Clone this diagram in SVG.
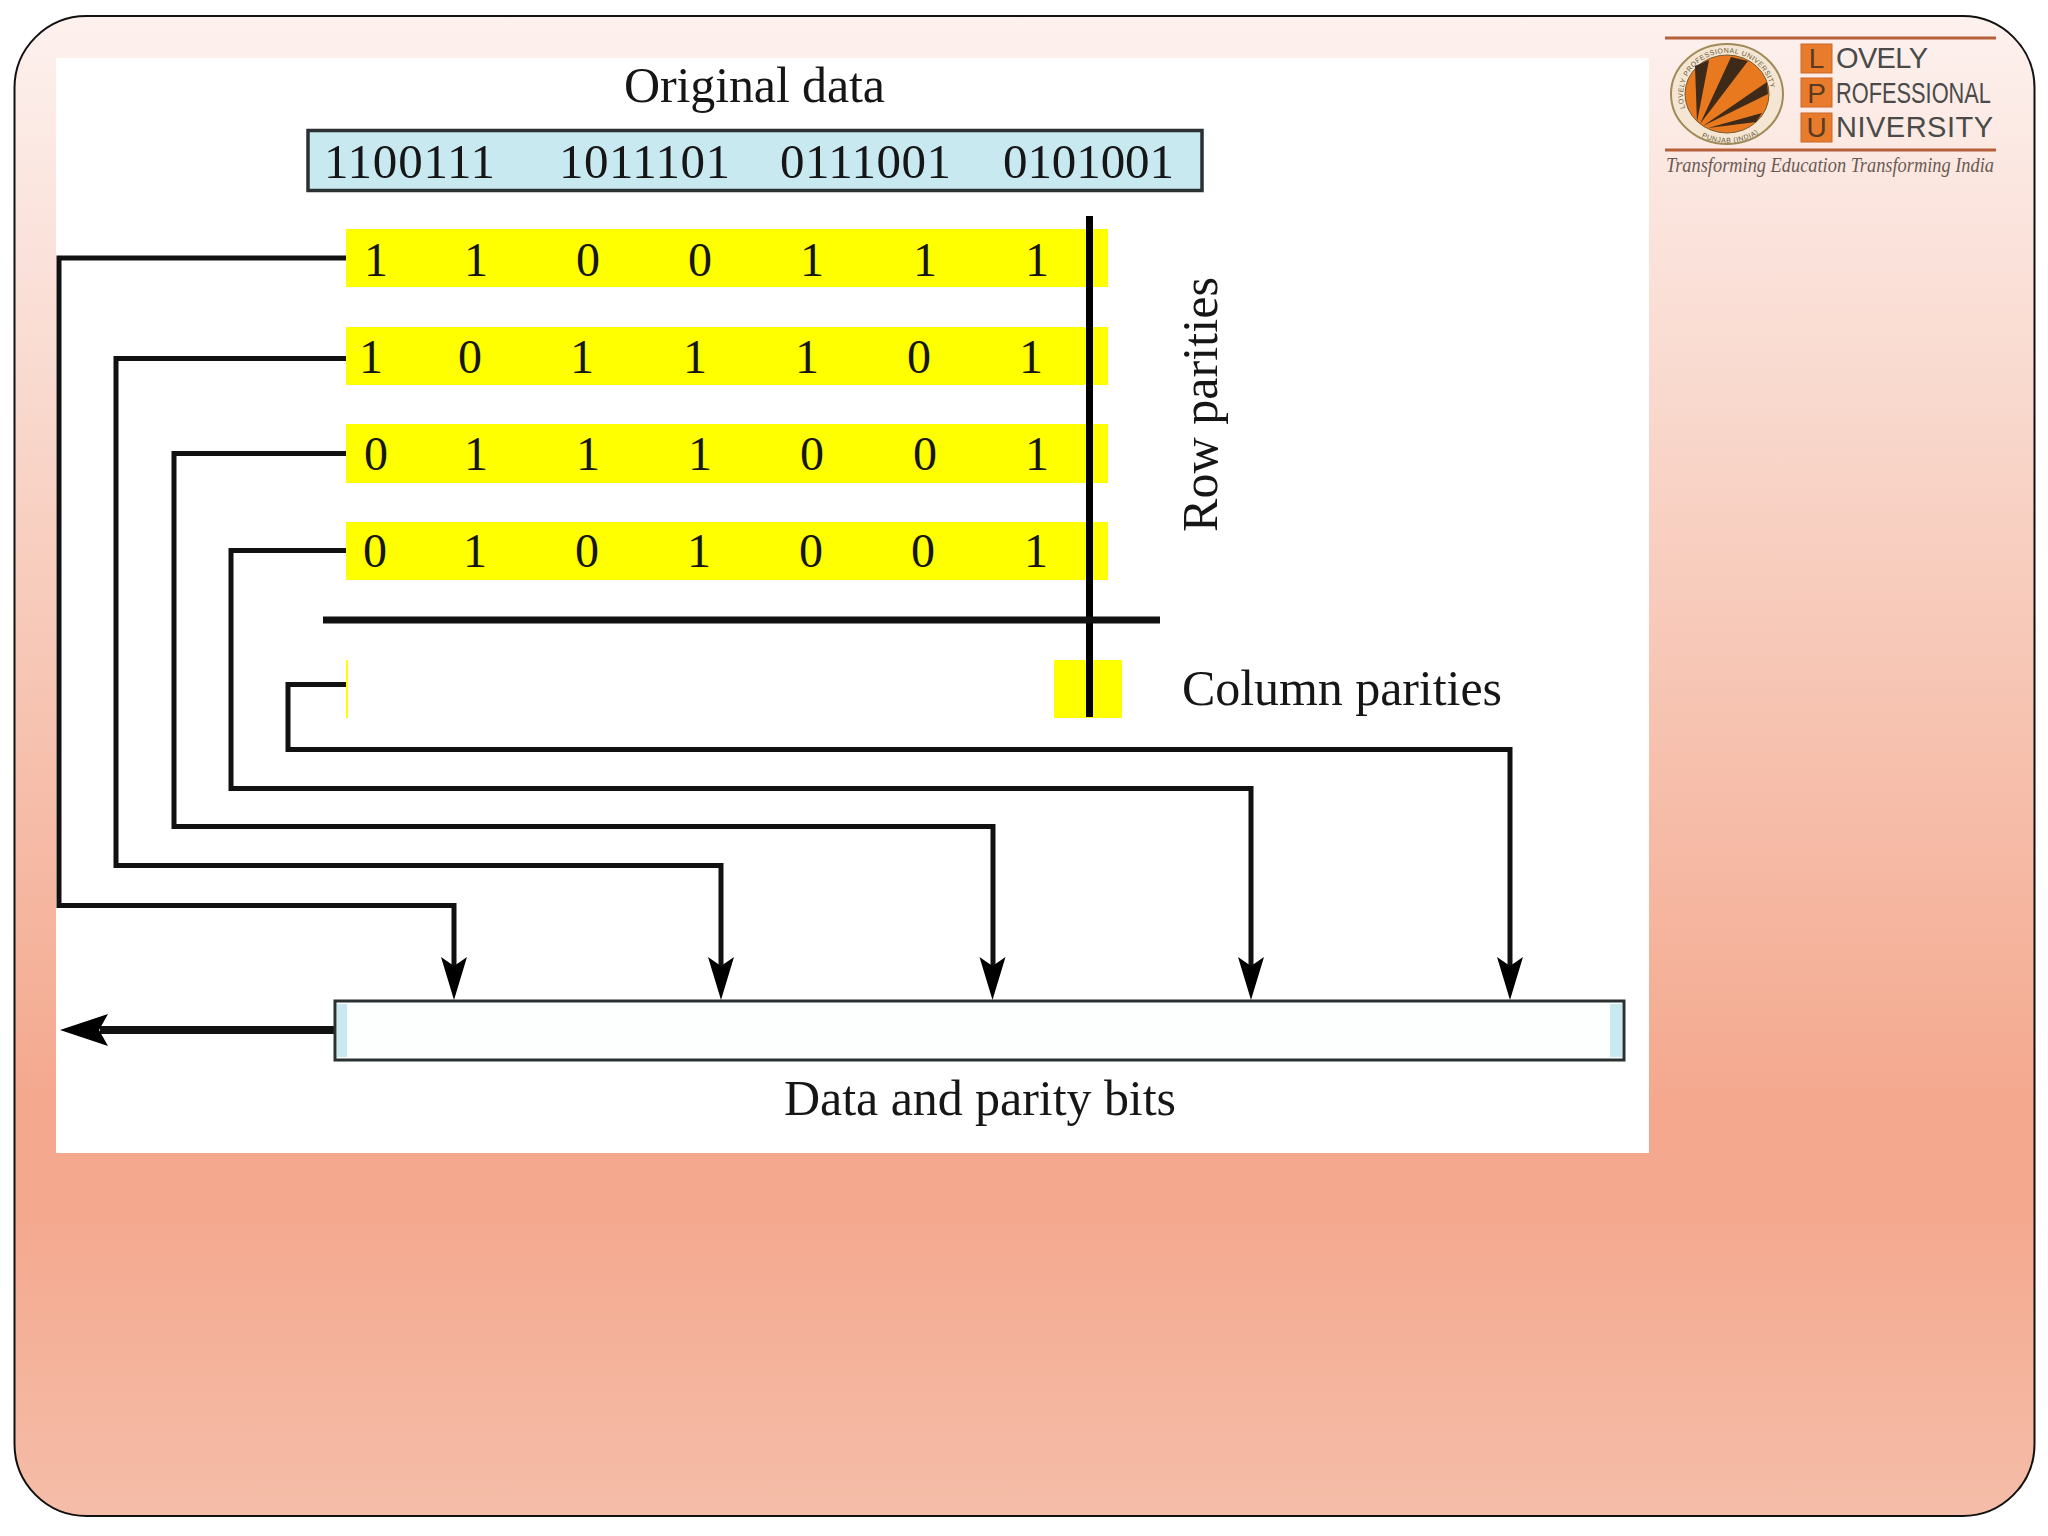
<svg xmlns="http://www.w3.org/2000/svg" xmlns:xlink="http://www.w3.org/1999/xlink" width="2048" height="1536" viewBox="0 0 2048 1536">
<style>
.s{font-family:"Liberation Serif","Times New Roman",serif;fill:#161616}
.d{font-size:48px;text-anchor:middle}
.g{font-size:49px}
.l{font-size:50px}
.c{fill:none;stroke:#111;stroke-width:5}
.y{fill:#ffff00}
.lg{font-family:"Liberation Sans",Arial,sans-serif;fill:#4a4a48;font-size:29px}
.lb{font-family:"Liberation Sans",Arial,sans-serif;fill:#5a3a20;font-size:28px;text-anchor:middle}
.sq{fill:#e87c2c;stroke:#c9682a;stroke-width:1}
.rule{stroke:#b5603a;stroke-width:3}
.ring{font-family:"Liberation Sans",Arial,sans-serif;font-size:7px;fill:#6a5a40;letter-spacing:.5px}
</style>
<defs>
<linearGradient id="bg" x1="0" y1="0" x2="0" y2="1">
<stop offset="0" stop-color="#fdf1ee"/>
<stop offset=".25" stop-color="#f9d9ce"/>
<stop offset=".72" stop-color="#f4a98f"/>
<stop offset=".8" stop-color="#f4a98f"/>
<stop offset="1" stop-color="#f5bda8"/>
</linearGradient>
<path id="ah" d="M0 0L-13 -43L0 -34L13 -43Z" fill="#000"/>
<path id="ringTop" d="M1689 116A44 42 0 1 1 1765 116"/>
<path id="ringBot" d="M1692 131A54 49 0 0 0 1762 131"/>
</defs>
<rect width="2048" height="1536" fill="#fff"/>
<rect id="slide" x="14.500" y="16" width="2020" height="1500" rx="72" ry="72" fill="url(#bg)" stroke="#111" stroke-width="2"/>
<rect id="figure" x="56" y="58" width="1593" height="1095" fill="#fff"/>

<text class="s l" x="624" y="102" textLength="261">Original data</text>
<g id="original-data">
<rect x="308" y="130.500" width="894" height="60" fill="#c9e9f1" stroke="#2b3133" stroke-width="3.500"/>
<text class="s g" x="324" y="178" textLength="171">1100111</text>
<text class="s g" x="559" y="178" textLength="171">1011101</text>
<text class="s g" x="780" y="178" textLength="171">0111001</text>
<text class="s g" x="1003" y="178" textLength="171">0101001</text>
</g>

<g id="row-1">
<rect class="y" x="346" y="229" width="762" height="58"/>
<g class="s d"><text x="376" y="276">1</text><text x="476" y="276">1</text><text x="588" y="276">0</text><text x="700" y="276">0</text><text x="812" y="276">1</text><text x="925" y="276">1</text><text x="1037" y="276">1</text></g>
</g>
<g id="row-2">
<rect class="y" x="346" y="327" width="762" height="58"/>
<g class="s d"><text x="371" y="373">1</text><text x="470" y="373">0</text><text x="582" y="373">1</text><text x="695" y="373">1</text><text x="807" y="373">1</text><text x="919" y="373">0</text><text x="1031" y="373">1</text></g>
</g>
<g id="row-3">
<rect class="y" x="346" y="424" width="762" height="59"/>
<g class="s d"><text x="376" y="470">0</text><text x="476" y="470">1</text><text x="588" y="470">1</text><text x="700" y="470">1</text><text x="812" y="470">0</text><text x="925" y="470">0</text><text x="1037" y="470">1</text></g>
</g>
<g id="row-4">
<rect class="y" x="346" y="522" width="762" height="58"/>
<g class="s d"><text x="375" y="567">0</text><text x="475" y="567">1</text><text x="587" y="567">0</text><text x="699" y="567">1</text><text x="811" y="567">0</text><text x="923" y="567">0</text><text x="1036" y="567">1</text></g>
</g>
<g id="column-parity">
<rect class="y" x="346" y="660" width="2" height="58"/>
<rect class="y" x="1054" y="660" width="68" height="58"/>
</g>

<g id="connectors">
<path class="c" d="M346 258H59V905.500H454V975"/>
<path class="c" d="M346 358.500H116V865.500H721V975"/>
<path class="c" d="M346 453.500H174V826.500H993V975"/>
<path class="c" d="M346 550.500H231V788.500H1251V975"/>
<path class="c" d="M346 684.500H288V749.500H1510V975"/>
<use href="#ah" x="454" y="1000"/>
<use href="#ah" x="721" y="1000"/>
<use href="#ah" x="992.500" y="1000"/>
<use href="#ah" x="1251" y="1000"/>
<use href="#ah" x="1510" y="1000"/>
<path d="M335 1030H100" fill="none" stroke="#111" stroke-width="8"/>
<path d="M60 1030L108 1014L99 1030L108 1046Z" fill="#000"/>
<path d="M1089.500 216V717" fill="none" stroke="#000" stroke-width="7"/>
<path d="M323 620H1160" fill="none" stroke="#111" stroke-width="7"/>
</g>

<text class="s l" transform="translate(1217 532) rotate(-90)" textLength="255">Row parities</text>
<text class="s l" x="1182" y="705" textLength="320">Column parities</text>

<g id="data-and-parity">
<rect x="335" y="1001" width="1289" height="59" fill="#fdffff" stroke="#2b3133" stroke-width="3"/>
<rect x="337" y="1004" width="10" height="53" fill="#c9e9f1"/>
<rect x="1610" y="1004" width="12" height="53" fill="#c9e9f1"/>
</g>
<text class="s l" x="784" y="1115" textLength="392">Data and parity bits</text>

<g id="logo">
<path class="rule" d="M1665 38H1996M1665 150H1996"/>
<ellipse cx="1727" cy="94" rx="56" ry="50" fill="#f4e6d2" stroke="#a08a5a" stroke-width="2"/>
<ellipse cx="1727" cy="94" rx="42" ry="39" fill="#e8791f" stroke="#7a5a30" stroke-width="1"/>
<path d="M1697 122L1695 66L1709 60Z M1700 124L1731 57L1748 61Z M1703 126L1767 82L1768 94Z M1708 128L1762 113L1756 122Z" fill="#3d2a18"/>
<text class="ring"><textPath href="#ringTop" startOffset="5%">LOVELY PROFESSIONAL UNIVERSITY</textPath></text>
<text class="ring"><textPath href="#ringBot" startOffset="15%">PUNJAB (INDIA)</textPath></text>
<rect class="sq" x="1801" y="44" width="31" height="29"/>
<rect class="sq" x="1801" y="78" width="31" height="29"/>
<rect class="sq" x="1801" y="113" width="31" height="29"/>
<text class="lb" x="1816.500" y="68">L</text>
<text class="lb" x="1816.500" y="103">P</text>
<text class="lb" x="1816.500" y="137">U</text>
<text class="lg" x="1836" y="68" textLength="92">OVELY</text>
<text class="lg" x="1836" y="103" textLength="155" lengthAdjust="spacingAndGlyphs">ROFESSIONAL</text>
<text class="lg" x="1836" y="137" textLength="157">NIVERSITY</text>
<text x="1666" y="172" textLength="328" lengthAdjust="spacingAndGlyphs" font-family="'Liberation Serif',serif" font-style="italic" font-size="21" fill="#6a5a52">Transforming Education Transforming India</text>
</g>
</svg>
